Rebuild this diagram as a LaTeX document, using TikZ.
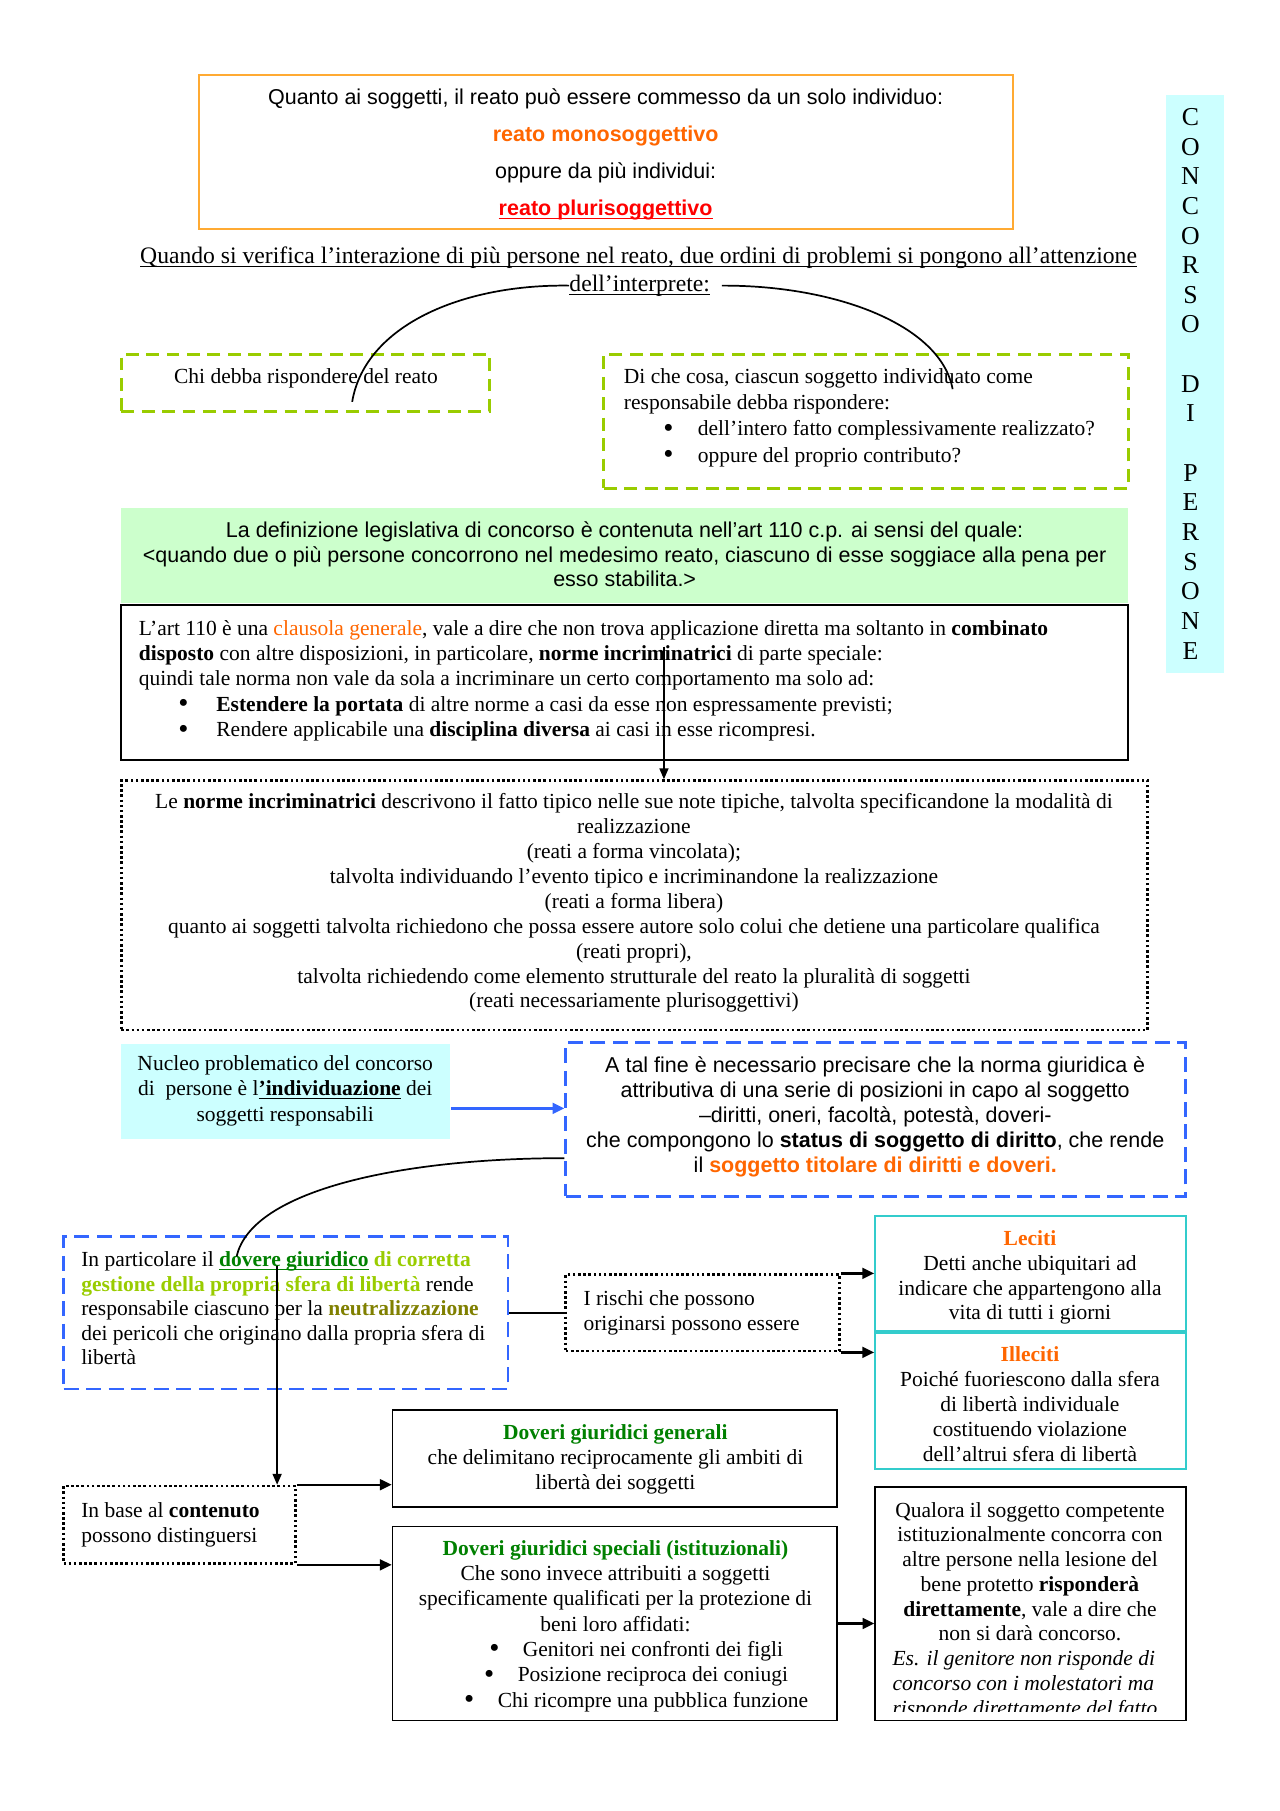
\documentclass[tikz,border=0pt]{standalone}
\usepackage{fontspec}
\setmainfont{Liberation Serif}
\newfontfamily\arial{Liberation Sans}
\usetikzlibrary{arrows.meta,fit}
\definecolor{orangeline}{RGB}{255,170,51}
\definecolor{orangetxt}{RGB}{255,102,0}
\definecolor{ygreen}{RGB}{153,204,0}
\definecolor{lgreen}{RGB}{204,255,204}
\definecolor{lcyan}{RGB}{204,255,255}
\definecolor{dblue}{RGB}{51,102,255}
\definecolor{teal2}{RGB}{51,204,204}
\definecolor{dgreen}{RGB}{0,128,0}
\definecolor{olive2}{RGB}{128,128,0}
\newsavebox\ulbox
\newcommand\myul[1]{\sbox\ulbox{#1}\rlap{\rule[-1.7pt]{\wd\ulbox}{0.5pt}}\usebox\ulbox}
\newcommand\bl[2]{\hspace*{#1pt}\makebox[#2pt][l]{\raisebox{-0.7pt}{\fontsize{13.5}{13.5}\selectfont\textbullet}}}
\tikzset{
  tx/.style={inner sep=0pt, yshift=-1.45pt, font=\fontsize{10}{#1}\selectfont},
  tx/.default={11.55pt},
  txa/.style={inner sep=0pt, yshift=-1.45pt, font=\arial\fontsize{10}{#1}\selectfont},
  txa/.default={11.5pt},
  ttl/.style={inner sep=0pt, yshift=-1.45pt, font=\fontsize{11}{12.9}\selectfont},
  boxfit/.style={inner sep=0pt, fit={#1}},
  orangebox/.style={draw=orangeline, line width=1pt},
  greendash/.style={draw=ygreen, line width=1.4pt, dash pattern=on 6pt off 3.5pt},
  bluedash/.style={draw=dblue, line width=1.3pt, dash pattern=on 7pt off 3.5pt},
  dotbox/.style={draw=black, line width=1.3pt, dash pattern=on 1.2pt off 1.2pt},
  solidbox/.style={draw=black, line width=0.8pt},
  tealbox/.style={draw=teal2, line width=1pt},
  thinarrow/.style={line width=0.6pt, -{Triangle[length=5pt,width=4.2pt]}},
  thickarrow/.style={line width=1.1pt, -{Triangle[length=5.5pt,width=5pt]}},
  bluearrow/.style={draw=dblue, line width=1.1pt, -{Triangle[length=5.5pt,width=5pt]}, fill=dblue},
  arcline/.style={line width=0.8pt},
}
\begin{document}
\begin{tikzpicture}[x=0.5372pt, y=-0.5372pt]
\useasboundingbox (0,0) rectangle (1108.2,1568.4);

% orange box
\node[boxfit={(172,65) (877,198)}, orangebox] (orange) {};
\node[txa=17.19pt, align=center, anchor=north] (orangetext) at (524.5,74)
  {Quanto ai soggetti, il reato può essere commesso da un solo individuo:\\
   \textcolor{orangetxt}{\textbf{reato monosoggettivo}}\\
   oppure da più individui:\\
   \textcolor{red}{\myul{\textbf{reato plurisoggettivo}}}};

% title
\node[ttl, anchor=north] (title1) at (553,211)
  {\myul{Quando si verifica l’interazione di più persone nel reato, due ordini di problemi si pongono all’attenzione}};
\node[ttl, anchor=north] (title2) at (554,235)
  {\myul{dell’interprete:}};

% green dashed boxes
\node[boxfit={(105,307) (424,356)}, greendash] (chi) {};
\node[tx, anchor=north] (chitext) at (265,316) {Chi debba rispondere del reato};
\node[boxfit={(523,307) (977,423)}, greendash] (diche) {};
\node[tx=12.2pt, align=left, anchor=north west] (dichetext) at (540,316)
  {Di che cosa, ciascun soggetto individuato come\\
   responsabile debba rispondere:\\
   \bl{18.3}{16.1}dell’intero fatto complessivamente realizzato?\\
   \bl{18.3}{16.1}oppure del proprio contributo?};

\coordinate (chiend) at (305,348);
\coordinate (dicheend) at (825,337);
\draw[arcline] (title2.west) .. controls (400,246) and (316,282) .. (chiend);
\draw[arcline] ([xshift=5.4pt]title2.east) .. controls (725,247) and (815,282) .. (dicheend);

% vertical label box
\node[boxfit={(1010,82) (1060,583)}, fill=lcyan] (side) {};
\node[inner sep=0pt, font=\fontsize{12}{13.79}\selectfont, align=center, anchor=north] (sidetext) at (1031,93.5)
  {C\\O\\N\\C\\O\\R\\S\\O\\\mbox{}\\D\\I\\\mbox{}\\P\\E\\R\\S\\O\\N\\E};

% definition box
\node[boxfit={(105,440) (977,522)}, fill=lgreen] (defbox) {};
\node[txa=11.28pt, align=center, anchor=north] (deftext) at (541,449)
  {La definizione legislativa di concorso è contenuta nell’art 110 c.p. ai sensi del quale:\\
   <quando due o più persone concorrono nel medesimo reato, ciascuno di esse soggiace alla pena per\\
   esso stabilita.>};

% art 110 box
\node[boxfit={(105,524) (977,658)}, solidbox] (art) {};
\node[tx=11.8pt, align=left, anchor=north west] (arttext) at (120,534)
  {L’art 110 è una \textcolor{orangetxt}{clausola generale}, vale a dire che non trova applicazione diretta ma soltanto in \textbf{combinato}\\
   \textbf{disposto} con altre disposizioni, in particolare, \textbf{norme incriminatrici} di parte speciale:\\
   quindi tale norma non vale da sola a incriminare un certo comportamento ma solo ad:\\
   \bl{18.3}{17.7}\textbf{Estendere la portata} di altre norme a casi da esse non espressamente previsti;\\
   \bl{18.3}{17.7}Rendere applicabile una \textbf{disciplina diversa} ai casi in esse ricompresi.};

% dotted box
\node[boxfit={(105,676) (994,892)}, dotbox] (norme) {};
\node[tx=11.6pt, align=center, anchor=north] (normetext) at (549,684)
  {Le \textbf{norme incriminatrici} descrivono il fatto tipico nelle sue note tipiche, talvolta specificandone la modalità di\\
   realizzazione\\
   (reati a forma vincolata);\\
   talvolta individuando l’evento tipico e incriminandone la realizzazione\\
   (reati a forma libera)\\
   quanto ai soggetti talvolta richiedono che possa essere autore solo colui che detiene una particolare qualifica\\
   (reati propri),\\
   talvolta richiedendo come elemento strutturale del reato la pluralità di soggetti\\
   (reati necessariamente plurisoggettivi)};

\coordinate (arttail) at (575,560);
\draw[thinarrow] (arttail) -- (arttail |- norme.north);

% nucleo
\node[boxfit={(105,904) (390,986)}, fill=lcyan] (nucleo) {};
\node[tx=11.8pt, align=center, anchor=north] (nucleotext) at (247,911)
  {Nucleo problematico del concorso\\
   di~ persone è l\myul{\textbf{’individuazione}} dei\\
   soggetti responsabili};

% a tal fine
\node[boxfit={(490,903) (1027,1036)}, bluedash] (atal) {};
\node[txa=11.68pt, align=center, anchor=north] (ataltext) at (758,912)
  {A tal fine è necessario precisare che la norma giuridica è\\
   attributiva di una serie di posizioni in capo al soggetto\\
   –diritti, oneri, facoltà, potestà, doveri-\\
   che compongono lo \textbf{status di soggetto di diritto}, che rende\\
   il \textcolor{orangetxt}{\textbf{soggetto titolare di diritti e doveri.}}};

\draw[bluearrow] ([yshift=-8pt]nucleo.east) -- ([yshift=-8pt]nucleo.east -| atal.west);

% in particolare
\node[boxfit={(55,1071) (440,1203)}, bluedash] (part) {};
\node[tx=11.4pt, align=left, anchor=north west] (parttext) at (70,1081)
  {In particolare il \textcolor{dgreen}{\myul{\textbf{dovere giuridico}}} \textcolor{ygreen}{\textbf{di corretta}}\\
   \textcolor{ygreen}{\textbf{gestione della propria sfera di libertà}} rende\\
   responsabile ciascuno per la \textcolor{olive2}{\textbf{neutralizzazione}}\\
   dei pericoli che originano dalla propria sfera di\\
   libertà};

\coordinate (partend) at (205,1088);
\draw[arcline] ([yshift=-18pt]atal.west) .. controls (350,1003) and (218,1030) .. (partend);

% rischi
\node[boxfit={(490,1104) (727,1170)}, dotbox] (rischi) {};
\node[tx=11.3pt, align=left, anchor=north west] (rischitext) at (505,1115)
  {I rischi che possono\\ originarsi possono essere};
\draw[line width=1pt] (part.east) -- (rischi.west);

% leciti / illeciti
\node[boxfit={(758,1053) (1027,1153)}, tealbox] (leciti) {};
\node[tx=11.45pt, align=center, anchor=north] (lecititext) at (892,1063)
  {\textcolor{orangetxt}{\textbf{Leciti}}\\
   Detti anche ubiquitari ad\\
   indicare che appartengono alla\\
   vita di tutti i giorni};
\node[boxfit={(758,1154) (1027,1272)}, tealbox] (illeciti) {};
\node[tx=11.68pt, align=center, anchor=north] (illecititext) at (892,1163)
  {\textcolor{orangetxt}{\textbf{Illeciti}}\\
   Poiché fuoriescono dalla sfera\\
   di libertà individuale\\
   costituendo violazione\\
   dell’altrui sfera di libertà};

\draw[thickarrow] (rischi.north east) -- (rischi.north east -| leciti.west);
\draw[thickarrow] (rischi.south east) -- (rischi.south east -| illeciti.west);

% doveri generali
\node[boxfit={(340,1221) (725,1305)}, solidbox] (dovgen) {};
\node[tx=11.55pt, align=center, anchor=north] (dovgentext) at (533,1231)
  {\textcolor{dgreen}{\textbf{Doveri giuridici generali}}\\
   che delimitano reciprocamente gli ambiti di\\
   libertà dei soggetti};

% in base
\node[boxfit={(55,1287) (256,1354)}, dotbox] (inbase) {};
\node[tx=11.8pt, align=left, anchor=north west] (inbasetext) at (70,1298)
  {In base al \textbf{contenuto}\\ possono distinguersi};

\coordinate (parttail) at (240,1096);
\draw[thinarrow] (parttail) -- (parttail |- inbase.north);

% doveri speciali
\node[boxfit={(340,1322) (725,1490)}, solidbox] (dovspec) {};
\node[tx=11.76pt, align=center, anchor=north] (dovspectext) at (533,1331)
  {\textcolor{dgreen}{\textbf{Doveri giuridici speciali (istituzionali)}}\\
   Che sono invece attribuiti a soggetti\\
   specificamente qualificati per la protezione di\\
   beni loro affidati:\\
   \bl{19.3}{15.6}Genitori nei confronti dei figli\\
   \bl{19.3}{15.6}Posizione reciproca dei coniugi\\
   \bl{19.3}{15.6}Chi ricompre una pubblica funzione};

\draw[thickarrow] (inbase.north east) -- (inbase.north east -| dovgen.west);
\draw[thickarrow] (inbase.south east) -- (inbase.south east -| dovspec.west);

% qualora
\node[boxfit={(758,1288) (1027,1490)}, solidbox] (qualora) {};
\begin{scope}
\clip (760,1290) rectangle (1025,1482);
\node[tx=11.5pt, align=center, anchor=north] (qualoratext) at (892,1298)
  {Qualora il soggetto competente\\
   istituzionalmente concorra con\\
   altre persone nella lesione del\\
   bene protetto \textbf{risponderà}\\
   \textbf{direttamente}, vale a dire che\\
   non si darà concorso.\\
   \makebox[127.9pt][l]{\itshape Es. il genitore non risponde di}\\
   \makebox[127.9pt][l]{\itshape concorso con i molestatori ma}\\
   \makebox[127.9pt][l]{\itshape risponde direttamente del fatto.}};
\end{scope}
\draw[thickarrow] (dovspec.east) -- (dovspec.east -| qualora.west);

\end{tikzpicture}
\end{document}
